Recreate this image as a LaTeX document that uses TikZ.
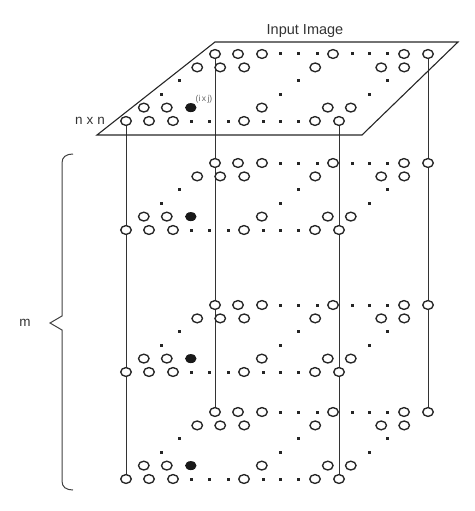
\documentclass[tikz,border=0pt]{standalone}
\usepackage{fontspec}
\newfontfamily\sfa{Liberation Sans}
\usetikzlibrary{shapes.geometric,backgrounds}
\tikzset{
  circ/.style={ellipse,draw=black!85,fill=white,line width=1.35pt,minimum width=10.5pt,minimum height=8.8pt,inner sep=0pt},
  dotn/.style={rectangle,fill=black!85,minimum size=3pt,inner sep=0pt},
  filledn/.style={ellipse,fill=black!90,minimum width=11.5pt,minimum height=9pt,inner sep=0pt},
  vline/.style={draw=black!80,line width=0.9pt},
  planeedge/.style={draw=black!85,line width=1.1pt},
  bracel/.style={draw=black!75,line width=1pt},
  lbl/.style={font=\sfa\fontsize{13.5}{15}\selectfont,text=black!80,inner sep=0pt}
}
\begin{document}
\begin{tikzpicture}[x=1pt,y=-1pt]
\useasboundingbox (0,0) rectangle (474,511);
% top plane outline
\coordinate (pBL) at (97,135);
\coordinate (pTL) at (215,42);
\coordinate (pTR) at (458,42);
\coordinate (pBR) at (362,135);
\draw[planeedge] (pBL) -- (pTL) -- (pTR) -- (pBR) -- cycle;
% layers
\foreach \l/\ly in {0/54,1/163,2/305,3/412}{
  % rows 1 and 6
  \foreach \r in {1,6}{
    \foreach \bx/\c in {215/1,238/2,262/3,333/7,404/11,428/12}
      \node[circ] (n-\l-\r-\c) at ({\bx-(\r-1)*17.8},{\ly+(\r-1)*13.4}) {};
    \foreach \bx/\c in {280/4,298/5,317/6,352/8,369/9,387/10}
      \node[dotn] (n-\l-\r-\c) at ({\bx-(\r-1)*17.8},{\ly+(\r-1)*13.4}) {};
  }
  % row 2
  \foreach \bx/\c in {215/1,238/2,262/3,333/7,399/11,422/12}
    \node[circ] (n-\l-2-\c) at ({\bx-17.8},{\ly+13.4}) {};
  % row 5
  \foreach \bx/\c in {215/1,238/2,333/7,399/11,422/12}
    \node[circ] (n-\l-5-\c) at ({\bx-4*17.8},{\ly+4*13.4}) {};
  \node[filledn] (n-\l-5-3) at ({262-4*17.8},{\ly+4*13.4}) {};
  % rows 3 and 4
  \foreach \r in {3,4}{
    \foreach \bx/\c in {215/1,334/7,423/12}
      \node[dotn] (n-\l-\r-\c) at ({\bx-(\r-1)*17.8},{\ly+(\r-1)*13.4}) {};
  }
}
% vertical connectors
\begin{pgfonlayer}{background}
\draw[vline] (n-0-6-1.center) -- (n-3-6-1);
\draw[vline] (n-0-1-1.center) -- (n-3-1-1);
\draw[vline] (n-0-6-12.center) -- (n-3-6-12);
\draw[vline] (n-0-1-12.center) -- (n-3-1-12);
\end{pgfonlayer}
% labels
\node[lbl,font=\sfa\fontsize{14.5}{16}\selectfont] (title) at (305,31) {Input Image};
\node[lbl] (nxn) at (90,121) {n\hspace{4pt}x\hspace{4pt}n};
\node[lbl,font=\sfa\fontsize{8.5}{9}\selectfont,text=black!60] (ij) at (204,99) {(i\,x\,j)};
\node[lbl] (m) at (25,323) {m};
% brace
\draw[bracel] (73,154) .. controls (66,154) and (62,157) .. (62,163) -- (62,316) -- (50,323) -- (62,330) -- (62,481) .. controls (62,487) and (66,490) .. (73,490);
\end{tikzpicture}
\end{document}
